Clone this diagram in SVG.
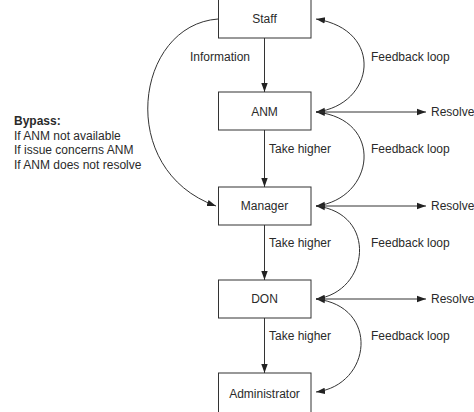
<svg xmlns="http://www.w3.org/2000/svg" width="474" height="412" viewBox="0 0 474 412">
<style>
.box{fill:#fff;stroke:#333;stroke-width:1}
.ln{fill:none;stroke:#333;stroke-width:1}
text{font-family:"Liberation Sans",Arial,sans-serif;font-size:12px;fill:#2a2a2a}
.c{text-anchor:middle}
</style>
<defs>
<marker id="ah" markerWidth="10" markerHeight="8" refX="9" refY="4" orient="auto-start-reverse" markerUnits="userSpaceOnUse">
<path d="M0,0.8 L9,4 L0,7.2 Z" fill="#222"/>
</marker>
</defs>
<rect width="474" height="412" fill="#fff"/>
<g id="connectors">
<line class="ln" x1="264.5" y1="38" x2="264.5" y2="92" marker-end="url(#ah)"/>
<line class="ln" x1="264.5" y1="130" x2="264.5" y2="187" marker-end="url(#ah)"/>
<line class="ln" x1="264.5" y1="225" x2="264.5" y2="280" marker-end="url(#ah)"/>
<line class="ln" x1="264.5" y1="318" x2="264.5" y2="373" marker-end="url(#ah)"/>
<path class="ln" d="M316,112 C375,105 385,30 316,19" marker-start="url(#ah)" marker-end="url(#ah)"/>
<path class="ln" d="M316,206 C375,199 385,119 316,112" marker-start="url(#ah)" marker-end="url(#ah)"/>
<path class="ln" d="M316,299 C370,292 378,213 316,206" marker-start="url(#ah)" marker-end="url(#ah)"/>
<path class="ln" d="M316,392 C372,385 380,306 316,299" marker-start="url(#ah)" marker-end="url(#ah)"/>
<line class="ln" x1="316" y1="112" x2="426" y2="112" marker-end="url(#ah)"/>
<line class="ln" x1="316" y1="206" x2="426" y2="206" marker-end="url(#ah)"/>
<line class="ln" x1="316" y1="299" x2="426" y2="299" marker-end="url(#ah)"/>
<path class="ln" d="M218,19 C135,25 115,170 216,206" marker-end="url(#ah)"/>
</g>
<g id="staff"><rect class="box" x="218.5" y="-1" width="92.5" height="39"/><text class="c" x="264.5" y="23">Staff</text></g>
<g id="anm"><rect class="box" x="218.5" y="92" width="92.5" height="38"/><text class="c" x="264.5" y="116">ANM</text></g>
<g id="manager"><rect class="box" x="218.5" y="187" width="92.5" height="38"/><text class="c" x="264.5" y="210">Manager</text></g>
<g id="don"><rect class="box" x="218.5" y="280" width="92.5" height="38"/><text class="c" x="264.5" y="303">DON</text></g>
<g id="administrator"><rect class="box" x="218.5" y="373" width="92.5" height="45"/><text class="c" x="264.5" y="398">Administrator</text></g>
<g id="labels">
<text class="c" x="220" y="61">Information</text>
<text x="269" y="153">Take higher</text>
<text x="269" y="247">Take higher</text>
<text x="269" y="340">Take higher</text>
<text x="371" y="61">Feedback loop</text>
<text x="371" y="153">Feedback loop</text>
<text x="371" y="247">Feedback loop</text>
<text x="371" y="340">Feedback loop</text>
<text x="431" y="116">Resolve</text>
<text x="431" y="210">Resolve</text>
<text x="431" y="303">Resolve</text>
<text x="14" y="125" font-weight="bold">Bypass:</text>
<text x="14" y="139.5">If ANM not available</text>
<text x="14" y="154">If issue concerns ANM</text>
<text x="14" y="168.5">If ANM does not resolve</text>
</g>
</svg>
